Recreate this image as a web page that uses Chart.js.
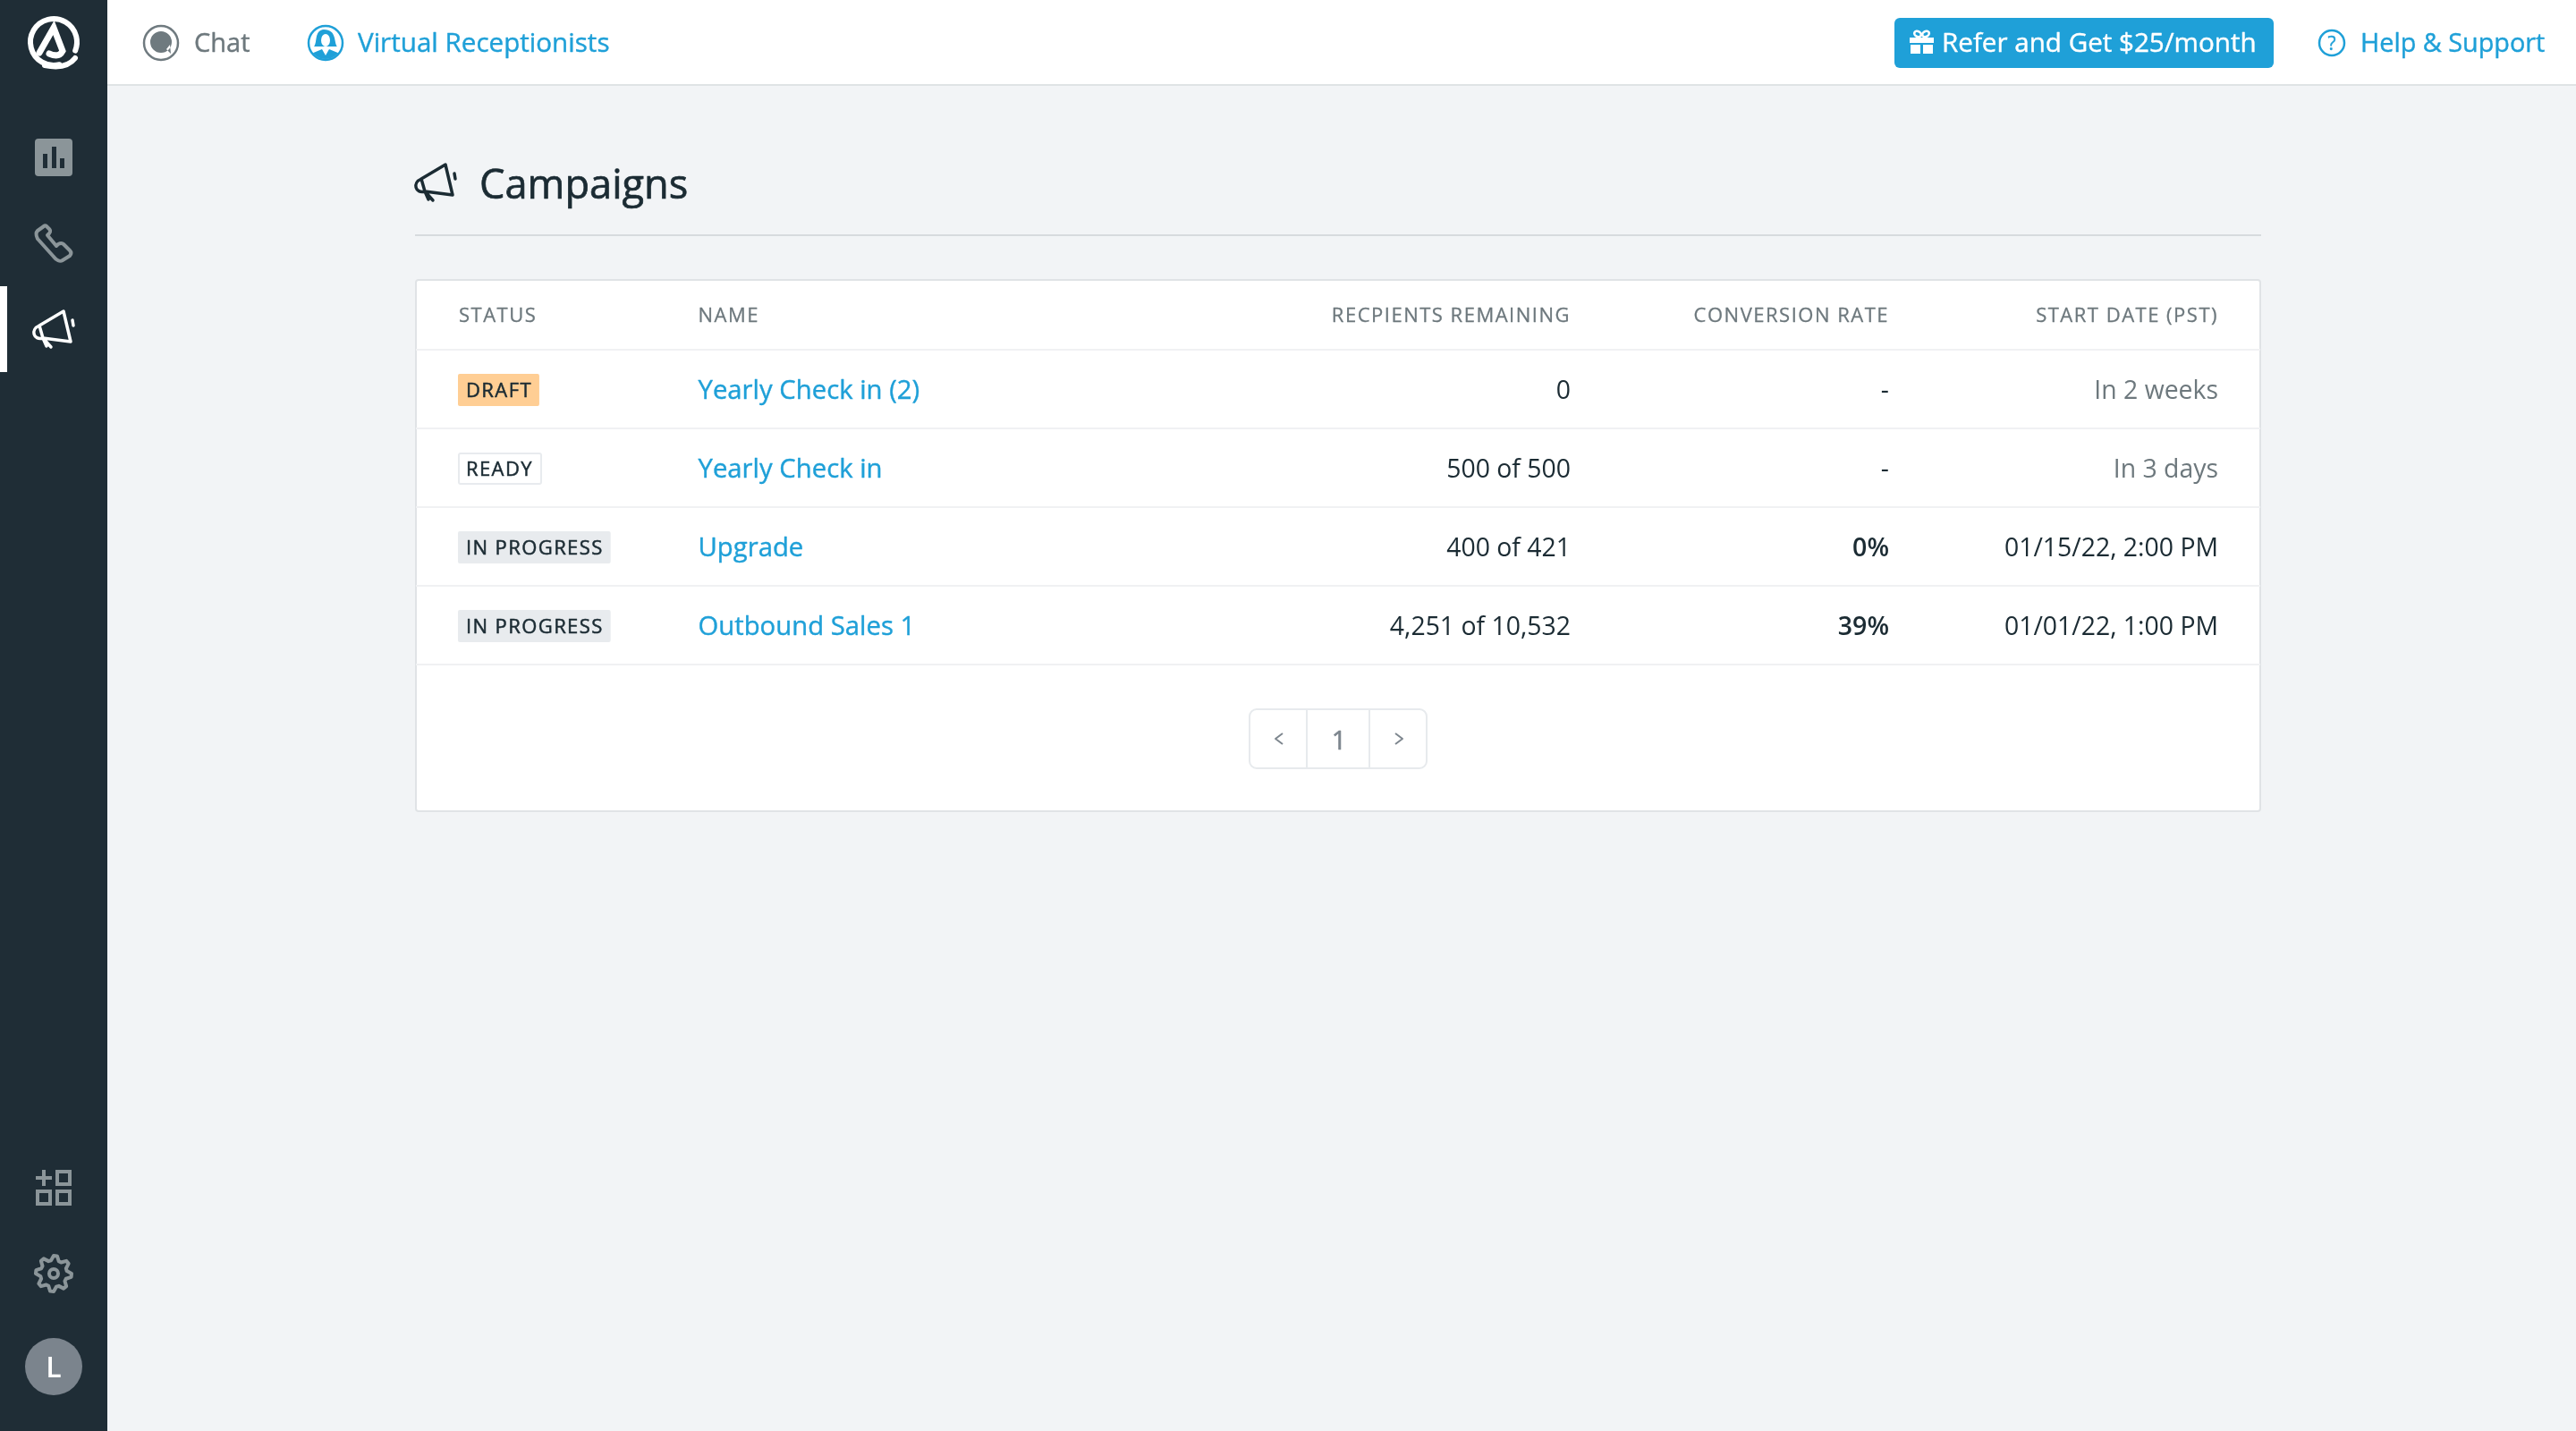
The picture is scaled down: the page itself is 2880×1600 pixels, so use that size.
<!DOCTYPE html>
<html>
<head>
<meta charset="utf-8">
<title>Campaigns</title>
<script src="https://cdn.jsdelivr.net/npm/chart.js@4/dist/chart.umd.min.js"></script>
<style>
  html, body { margin: 0; padding: 0; background: #f2f4f6; }
  canvas { display: block; }
</style>
</head>
<body>
<canvas id="campaignsChart" width="2880" height="1600"></canvas>
<script>
// table content
const columnHeaders = ['STATUS', 'NAME', 'RECPIENTS REMAINING', 'CONVERSION RATE', 'START DATE (PST)'];
const campaignStatus = ['DRAFT', 'READY', 'IN PROGRESS', 'IN PROGRESS'];
const campaignNames = ['Yearly Check in (2)', 'Yearly Check in', 'Upgrade', 'Outbound Sales 1'];
const recipientsRemaining = ['0', '500 of 500', '400 of 421', '4,251 of 10,532'];
const conversionRates = ['-', '-', '0%', '39%'];
const startDates = ['In 2 weeks', 'In 3 days', '01/15/22, 2:00 PM', '01/01/22, 1:00 PM'];
const pageNumbers = ['1'];

// page text
const pageTitle = 'Campaigns';
const chatLabel = 'Chat';
const receptionistLabel = 'Virtual Receptionists';
const referLabel = 'Refer and Get $25/month';
const helpLabel = 'Help & Support';
const avatarLetter = 'L';

const FONT = '"Open Sans", sans-serif';
const BLUE = '#1fa0d8';
const INK = '#1b2b33';
const MUTED = '#6d787d';
const ICON = '#8b9599';
const SIDEBAR = '#1f2d36';

// the x axis runs in page columns, so a cell anchor is just a value on it
const columnAnchors = [513, 780.5, 1756, 2112, 2480];
const columnCells = [campaignStatus, campaignNames, recipientsRemaining, conversionRates, startDates];

// no medium face installed, a hairline stroke gives the heavier look of the reference
function text(ctx, str, x, y, font, color, align, spacing, heavy) {
  ctx.font = font;
  ctx.fillStyle = color;
  ctx.textAlign = align || 'left';
  ctx.textBaseline = 'alphabetic';
  ctx.letterSpacing = spacing || '0px';
  ctx.fillText(str, x, y);
  if (heavy) {
    ctx.strokeStyle = color;
    ctx.lineWidth = heavy;
    ctx.lineJoin = 'round';
    ctx.strokeText(str, x, y);
  }
  ctx.letterSpacing = '0px';
}

function roundRect(ctx, x, y, w, h, r) {
  ctx.beginPath();
  ctx.roundRect(x, y, w, h, r);
}

function megaphone(ctx, x, y, s, color, lw) {
  ctx.save();
  ctx.translate(x, y);
  ctx.scale(s, s);
  ctx.strokeStyle = color;
  ctx.lineWidth = lw;
  ctx.lineJoin = 'round';
  ctx.lineCap = 'round';
  ctx.beginPath();
  ctx.moveTo(9, 17);
  ctx.lineTo(36, 1);
  ctx.lineTo(44, 35);
  ctx.lineTo(13, 31);
  ctx.bezierCurveTo(2, 34, -1, 21, 9, 17);
  ctx.moveTo(9, 17);
  ctx.lineTo(13, 31);
  ctx.lineTo(22, 41);
  ctx.moveTo(13, 31);
  ctx.lineTo(17, 40);
  ctx.moveTo(46, 11);
  ctx.lineTo(47, 17);
  ctx.stroke();
  ctx.restore();
}

function drawSidebar(ctx) {
  ctx.fillStyle = SIDEBAR;
  ctx.fillRect(0, 0, 120, 1600);
  ctx.fillStyle = '#ffffff';
  ctx.fillRect(0, 320, 8, 96);

  // logo
  ctx.strokeStyle = '#ffffff';
  ctx.lineWidth = 6;
  ctx.lineCap = 'round';
  ctx.beginPath();
  ctx.arc(60, 47, 26, Math.PI * 0.42, Math.PI * 2.12);
  ctx.stroke();
  ctx.beginPath();
  ctx.moveTo(50, 73);
  ctx.quadraticCurveTo(74, 78, 84, 65);
  ctx.stroke();
  ctx.lineWidth = 7;
  ctx.beginPath();
  ctx.moveTo(44, 59);
  ctx.lineTo(60, 31);
  ctx.lineTo(70, 57);
  ctx.quadraticCurveTo(66, 65, 55, 60);
  ctx.stroke();
  ctx.lineCap = 'butt';

  // reports
  ctx.fillStyle = ICON;
  roundRect(ctx, 39, 155, 42, 42, 4);
  ctx.fill();
  ctx.fillStyle = SIDEBAR;
  ctx.fillRect(48, 172, 5, 16);
  ctx.fillRect(58, 164, 5, 24);
  ctx.fillRect(67, 177, 5, 11);

  // phone
  ctx.save();
  ctx.translate(40, 252);
  ctx.strokeStyle = ICON;
  ctx.lineWidth = 4;
  ctx.lineJoin = 'round';
  ctx.beginPath();
  ctx.moveTo(9, 1);
  ctx.lineTo(2, 6);
  ctx.bezierCurveTo(0, 8, 0, 11, 2, 15);
  ctx.lineTo(20, 35);
  ctx.bezierCurveTo(23, 39, 27, 41, 30, 39);
  ctx.lineTo(38, 34);
  ctx.bezierCurveTo(40, 32, 40, 30, 38, 28);
  ctx.lineTo(31, 21);
  ctx.bezierCurveTo(29, 19, 27, 20, 25, 21);
  ctx.lineTo(23, 23);
  ctx.lineTo(13, 11);
  ctx.lineTo(15, 9);
  ctx.bezierCurveTo(17, 7, 16, 5, 15, 4);
  ctx.lineTo(12, 1);
  ctx.bezierCurveTo(11, 0, 10, 0, 9, 1);
  ctx.closePath();
  ctx.stroke();
  ctx.restore();

  megaphone(ctx, 35, 347, 1, '#ffffff', 3.5);

  // apps
  ctx.strokeStyle = ICON;
  ctx.lineWidth = 4;
  ctx.strokeRect(64, 1310, 14, 14);
  ctx.strokeRect(42, 1332, 14, 14);
  ctx.strokeRect(64, 1332, 14, 14);
  ctx.beginPath();
  ctx.moveTo(49, 1308);
  ctx.lineTo(49, 1326);
  ctx.moveTo(40, 1317);
  ctx.lineTo(58, 1317);
  ctx.stroke();

  // settings
  ctx.lineWidth = 4;
  ctx.lineJoin = 'round';
  ctx.beginPath();
  for (let i = 0; i < 32; i++) {
    const a = (i / 32) * Math.PI * 2;
    const step = i % 4;
    const r = step === 0 || step === 1 ? 20 : 15;
    const px = 60 + Math.cos(a) * r;
    const py = 1424 + Math.sin(a) * r;
    if (i === 0) ctx.moveTo(px, py); else ctx.lineTo(px, py);
  }
  ctx.closePath();
  ctx.stroke();
  ctx.beginPath();
  ctx.arc(60, 1424, 5, 0, Math.PI * 2);
  ctx.stroke();

  // avatar
  ctx.fillStyle = '#7b848d';
  ctx.beginPath();
  ctx.arc(60, 1528, 32, 0, Math.PI * 2);
  ctx.fill();
  text(ctx, avatarLetter, 60, 1540, '600 32px ' + FONT, '#ffffff', 'center');
}

function drawTopbar(ctx) {
  ctx.fillStyle = '#ffffff';
  ctx.fillRect(120, 0, 2760, 94);
  ctx.fillStyle = '#dfe3e5';
  ctx.fillRect(120, 94, 2760, 2);

  // chat icon
  ctx.strokeStyle = '#6f7a7f';
  ctx.lineWidth = 2.5;
  ctx.beginPath();
  ctx.arc(180, 48, 19, 0, Math.PI * 2);
  ctx.stroke();
  ctx.fillStyle = '#6f7a7f';
  ctx.beginPath();
  ctx.arc(180, 47, 12, 0, Math.PI * 2);
  ctx.moveTo(186, 55);
  ctx.lineTo(191, 60);
  ctx.lineTo(190, 50);
  ctx.fill();
  text(ctx, chatLabel, 217, 58, '29px ' + FONT, MUTED, 'left', '0px', 0.4);

  // receptionist icon
  ctx.strokeStyle = BLUE;
  ctx.lineWidth = 2.5;
  ctx.beginPath();
  ctx.arc(364, 48, 19, 0, Math.PI * 2);
  ctx.stroke();
  ctx.save();
  ctx.beginPath();
  ctx.arc(364, 48, 18, 0, Math.PI * 2);
  ctx.clip();
  ctx.fillStyle = BLUE;
  ctx.beginPath();
  ctx.moveTo(362, 33);
  ctx.bezierCurveTo(351, 34, 355, 48, 351, 52);
  ctx.lineTo(377, 52);
  ctx.bezierCurveTo(373, 48, 377, 33, 362, 33);
  ctx.fill();
  ctx.fillStyle = '#ffffff';
  ctx.beginPath();
  ctx.ellipse(364, 45, 5, 7, 0, 0, Math.PI * 2);
  ctx.fill();
  ctx.fillStyle = BLUE;
  ctx.beginPath();
  ctx.moveTo(344, 70);
  ctx.lineTo(348, 60);
  ctx.lineTo(360, 55);
  ctx.lineTo(364, 62);
  ctx.lineTo(368, 55);
  ctx.lineTo(380, 60);
  ctx.lineTo(384, 70);
  ctx.fill();
  ctx.restore();
  text(ctx, receptionistLabel, 400, 58, '29.6px ' + FONT, BLUE, 'left', '0px', 0.4);

  // refer button
  ctx.fillStyle = BLUE;
  roundRect(ctx, 2118, 20, 424, 56, 6);
  ctx.fill();
  ctx.fillStyle = '#ffffff';
  ctx.fillRect(2135, 42, 27, 6);
  ctx.fillRect(2136, 50, 11, 10);
  ctx.fillRect(2150, 50, 11, 10);
  ctx.strokeStyle = '#ffffff';
  ctx.lineWidth = 2.5;
  ctx.beginPath();
  ctx.ellipse(2144, 38, 4, 3, 0.5, 0, Math.PI * 2);
  ctx.moveTo(2157, 38);
  ctx.ellipse(2153, 38, 4, 3, -0.5, 0, Math.PI * 2);
  ctx.stroke();
  text(ctx, referLabel, 2171, 58, '29.6px ' + FONT, '#ffffff', 'left', '0px', 0.4);

  // help
  ctx.strokeStyle = BLUE;
  ctx.lineWidth = 2.5;
  ctx.beginPath();
  ctx.arc(2607, 48, 14, 0, Math.PI * 2);
  ctx.stroke();
  text(ctx, '?', 2607, 56, '21px ' + FONT, BLUE, 'center', '0px', 0.4);
  text(ctx, helpLabel, 2639, 58, '28.8px ' + FONT, BLUE, 'left', '0px', 0.4);
}

function drawHeading(ctx) {
  megaphone(ctx, 462, 183, 1, INK, 3.5);
  text(ctx, pageTitle, 536, 222, '45.2px ' + FONT, INK, 'left', '0px', 0.7);
  ctx.fillStyle = '#d7dbde';
  ctx.fillRect(464, 262, 2064, 2);
}

function drawPanel(ctx, area) {
  ctx.fillStyle = '#ffffff';
  roundRect(ctx, area.left, 313, area.right - area.left, 594, 3);
  ctx.fill();
  ctx.strokeStyle = '#e0e3e6';
  ctx.lineWidth = 2;
  ctx.stroke();
}

function drawPagination(ctx) {
  ctx.strokeStyle = '#e7eaed';
  ctx.lineWidth = 2;
  roundRect(ctx, 1397, 793, 198, 66, 8);
  ctx.stroke();
  ctx.beginPath();
  ctx.moveTo(1461, 793);
  ctx.lineTo(1461, 859);
  ctx.moveTo(1531, 793);
  ctx.lineTo(1531, 859);
  ctx.stroke();
  text(ctx, pageNumbers[0], 1497, 838, '29px ' + FONT, '#7d868e', 'center', '0px', 0.6);
  ctx.strokeStyle = '#7d868e';
  ctx.lineWidth = 2;
  ctx.beginPath();
  ctx.moveTo(1434, 820);
  ctx.lineTo(1426, 826);
  ctx.lineTo(1434, 832);
  ctx.moveTo(1560, 820);
  ctx.lineTo(1568, 826);
  ctx.lineTo(1560, 832);
  ctx.stroke();
}

function drawBadge(ctx, label, x, y) {
  const font = '22px ' + FONT;
  const spacing = '1.4px';
  ctx.font = font;
  ctx.letterSpacing = spacing;
  const w = ctx.measureText(label).width + 17;
  ctx.letterSpacing = '0px';
  if (label === 'READY') {
    ctx.fillStyle = '#ffffff';
    ctx.strokeStyle = '#e8ebee';
    ctx.lineWidth = 2;
    roundRect(ctx, x + 1, y - 17, w, 34, 2);
    ctx.fill();
    ctx.stroke();
  } else {
    ctx.fillStyle = label === 'DRAFT' ? '#ffce94' : '#e8ebee';
    roundRect(ctx, x, y - 18, w, 36, 2);
    ctx.fill();
  }
  text(ctx, label, x + 9, y + 8, font, INK, 'left', spacing, 0.5);
}

function cellStyle(col, value) {
  if (col === 1) return { font: '29.3px ' + FONT, color: BLUE, align: 'left', heavy: 0.4 };
  if (col === 3 && value !== '-') return { font: '600 28.5px ' + FONT, color: INK, align: 'right' };
  if (col === 4 && value.startsWith('In')) return { font: '28.4px ' + FONT, color: MUTED, align: 'right' };
  return { font: '28.4px ' + FONT, color: INK, align: 'right' };
}

// page furniture goes under the chart, table cells go on top of its row lines
const pagePlugin = {
  id: 'page',
  beforeDraw(chart) {
    const ctx = chart.ctx;
    ctx.save();
    ctx.fillStyle = '#f2f4f6';
    ctx.fillRect(0, 0, chart.width, chart.height);
    drawSidebar(ctx);
    drawTopbar(ctx);
    drawHeading(ctx);
    drawPanel(ctx, chart.chartArea);
    drawPagination(ctx);
    ctx.restore();
  },
  afterDatasetsDraw(chart) {
    const ctx = chart.ctx;
    ctx.save();
    columnCells.forEach((cells, col) => {
      const anchor = chart.scales.x.getPixelForValue(columnAnchors[col]);
      text(ctx, columnHeaders[col], anchor, 360, '22px ' + FONT, MUTED, col < 2 ? 'left' : 'right', '1.5px', 0.3);
      chart.getDatasetMeta(col).data.forEach((point, row) => {
        if (col === 0) {
          drawBadge(ctx, cells[row], point.x - 1, point.y + 1);
          return;
        }
        const s = cellStyle(col, cells[row]);
        text(ctx, cells[row], point.x, point.y + 11, s.font, s.color, s.align, '0px', s.heavy);
      });
    });
    ctx.restore();
  }
};

new Chart(document.getElementById('campaignsChart'), {
  type: 'scatter',
  data: {
    datasets: columnCells.map((cells, col) => ({
      label: columnHeaders[col],
      data: campaignNames.map(name => ({ x: columnAnchors[col], y: name })),
      pointRadius: 0,
      showLine: false
    }))
  },
  options: {
    responsive: false,
    animation: false,
    devicePixelRatio: 1,
    events: [],
    layout: { padding: { left: 465, right: 353, top: 391, bottom: 857 } },
    plugins: { legend: { display: false }, tooltip: { enabled: false } },
    scales: {
      x: { type: 'linear', min: 465, max: 2527, display: false },
      y: {
        type: 'category',
        labels: campaignNames,
        offset: true,
        border: { display: false },
        grid: { offset: true, color: '#f0f1f3', lineWidth: 2, drawTicks: false },
        ticks: { display: false }
      }
    }
  },
  plugins: [pagePlugin]
});
</script>
</body>
</html>
